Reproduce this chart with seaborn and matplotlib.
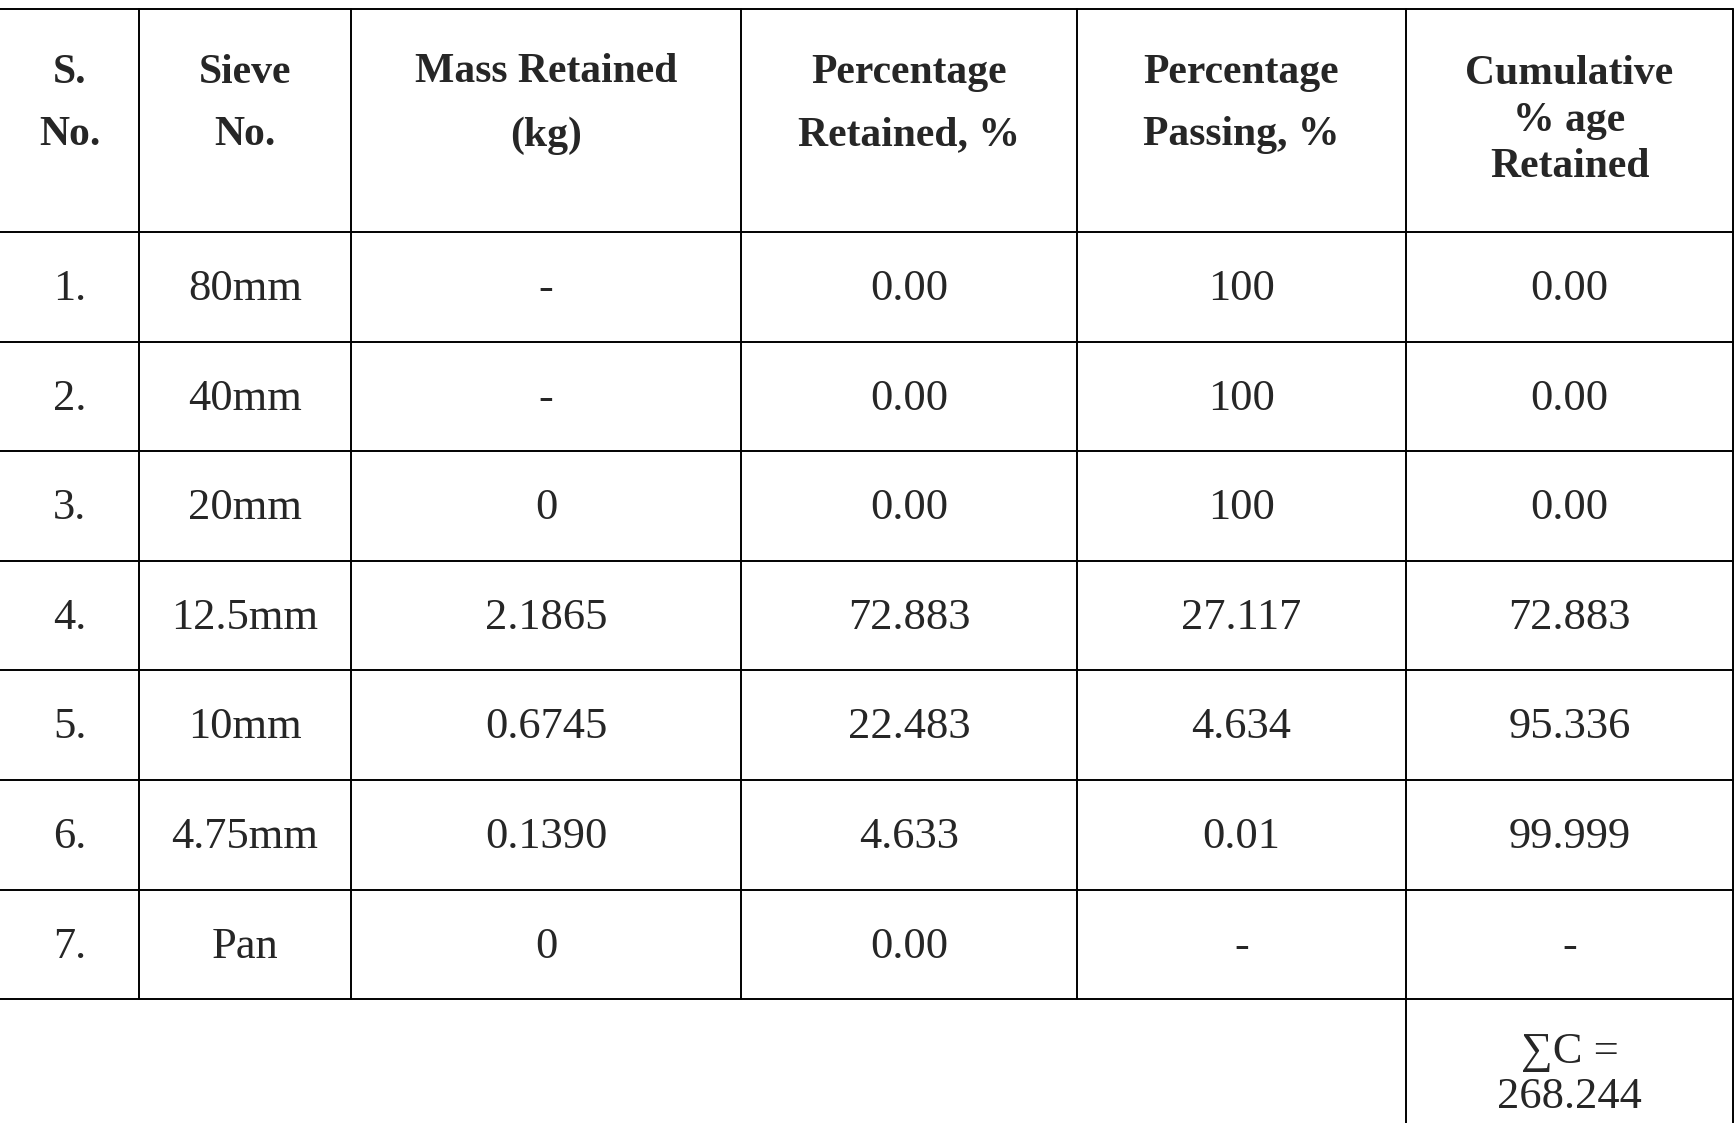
import matplotlib
matplotlib.use("Agg")
import matplotlib.pyplot as plt
import seaborn as sns

sns.set_style("white")
plt.rcParams['font.family'] = ['Liberation Serif', 'DejaVu Serif']

headers = ["S.\nNo.", "Sieve\nNo.", "Mass Retained\n(kg)", "Percentage\nRetained, %",
           "Percentage\nPassing, %", "Cumulative\n% age\nRetained"]
sno = ["1.", "2.", "3.", "4.", "5.", "6.", "7."]
sieve = ["80mm", "40mm", "20mm", "12.5mm", "10mm", "4.75mm", "Pan"]
mass = ["-", "-", "0", "2.1865", "0.6745", "0.1390", "0"]
pct_ret = ["0.00", "0.00", "0.00", "72.883", "22.483", "4.633", "0.00"]
pct_pass = ["100", "100", "100", "27.117", "4.634", "0.01", "-"]
cum_ret = ["0.00", "0.00", "0.00", "72.883", "95.336", "99.999", "-"]
total_label = "∑C =\n268.244"

W, H = 1568, 1015
xs = [0, 126, 317, 670, 973, 1271, 1566]
ys = [8, 210, 309, 408, 507, 606, 705, 804, 903]

fig = plt.figure(figsize=(17.35, 11.23), dpi=100)
ax = fig.add_axes([0, 0, 1, 1])
ax.set_xlim(0, W)
ax.set_ylim(H, 0)
ax.axis("off")

lw = 1.4
for y in ys:
    ax.plot([0, xs[-1]], [y, y], color="black", lw=lw)
for x in xs[1:]:
    ax.plot([x, x], [ys[0], ys[-1]], color="black", lw=lw)
for x in xs[-2:]:
    ax.plot([x, x], [ys[-1], H], color="black", lw=lw)

cx = [(xs[i] + xs[i + 1]) / 2 for i in range(6)]
for i, h in enumerate(headers):
    if h.count("\n") == 1:
        ax.text(cx[i], 94, h, ha="center", va="center", fontsize=30,
                fontweight="bold", linespacing=1.85)
    else:
        ax.text(cx[i], 109, h, ha="center", va="center", fontsize=30,
                fontweight="bold", linespacing=1.3)

cols = [sno, sieve, mass, pct_ret, pct_pass, cum_ret]
for r in range(7):
    yc = (ys[r + 1] + ys[r + 2]) / 2
    for c in range(6):
        ax.text(cx[c], yc + 2, cols[c][r], ha="center", va="center", fontsize=32)

ax.text(cx[5], 933, total_label, ha="center", va="top", fontsize=32,
        linespacing=1.15, clip_on=True)

fig.savefig("out.png", dpi=100, facecolor="white")
